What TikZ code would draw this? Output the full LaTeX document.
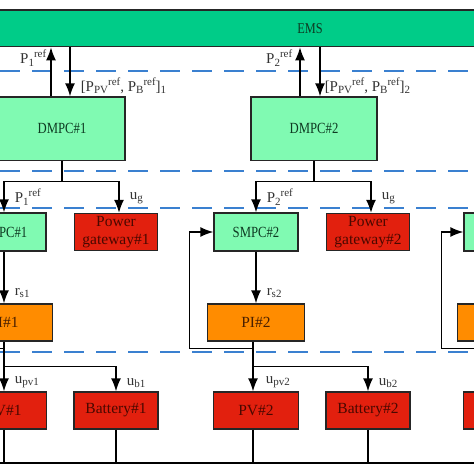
\documentclass[tikz,border=0pt]{standalone}
\usepackage{fontspec}
\setmainfont{Liberation Serif}
\newfontfamily\narrowfont[FakeStretch=0.82]{Liberation Serif}
\usetikzlibrary{arrows.meta}

\definecolor{emsgreen}{HTML}{00CC88}
\definecolor{ctrlgreen}{HTML}{80FAB2}
\definecolor{ctrltext}{HTML}{0E3A22}
\definecolor{devred}{HTML}{E2200E}
\definecolor{devtext}{HTML}{4A0800}
\definecolor{piorange}{HTML}{FF8C00}
\definecolor{pitext}{HTML}{4A2000}
\definecolor{dashblue}{HTML}{3A80D0}

\newcommand{\subtxt}[1]{\raisebox{-0.35ex}{\fontsize{11}{12}\selectfont #1}}
\newcommand{\suptxt}[1]{\raisebox{0.85ex}{\fontsize{11}{12}\selectfont #1}}

\begin{document}
\begin{tikzpicture}[x=1pt, y=-1pt,
  box/.style={draw=black!85, line width=1.3pt, inner sep=0pt, align=center},
  ems/.style={box, fill=emsgreen, minimum width=700pt, minimum height=36.7pt,
    font=\narrowfont\fontsize{15}{17}\selectfont, text=ctrltext},
  ctrl/.style={box, fill=ctrlgreen, minimum width=84pt, minimum height=38pt,
    font=\narrowfont\fontsize{15.5}{17}\selectfont, text=ctrltext},
  dev/.style={box, fill=devred, minimum width=84pt, minimum height=37pt,
    font=\fontsize{15.5}{18.5}\selectfont, text=devtext},
  pictrl/.style={box, fill=piorange, minimum width=97pt, minimum height=37pt,
    font=\fontsize{15.5}{18}\selectfont, text=pitext},
  wire/.style={line width=1.5pt},
  arr/.style={line width=1.5pt, -{Latex[length=13pt,width=10pt]}},
  dline/.style={draw=dashblue, line width=1.2pt, dash pattern=on 20pt off 12pt},
  lbl/.style={font=\fontsize{15}{17}\selectfont, text=black!80, inner sep=4pt}]
\useasboundingbox (0,0) rectangle (474,474);
\clip (0,0) rectangle (474,474);

\draw[dline] (0,71)--(474,71);
\draw[dline] (0,171)--(474,171);
\draw[dline] (0,208)--(474,208);
\draw[dline] (0,352)--(474,352);

\node[ems] (EMS) at (310,28.3) {EMS};
\node[ctrl, minimum width=126pt, minimum height=63.5pt] (DMPC1) at (62,128.8) {DMPC\#1};
\node[ctrl, minimum width=126pt, minimum height=63.5pt] (DMPC2) at (314,128.8) {DMPC\#2};

\node[ctrl] (SMPC1) at (4,232) {SMPC\#1};
\node[ctrl] (SMPC2) at (256,232) {SMPC\#2};
\node[ctrl] (SMPC3) at (506,232) {};
\node[dev, minimum width=83pt] (GW1) at (116,232) {Power\\gateway\#1};
\node[dev, minimum width=83pt] (GW2) at (368,232) {Power\\gateway\#2};

\node[pictrl] (PI1) at (4,322.5) {PI\#1};
\node[pictrl] (PI2) at (256,322.5) {PI\#2};
\node[pictrl] (PI3) at (506,322.5) {};

\node[dev, minimum width=85pt] (PV1) at (4,410.5) {PV\#1};
\node[dev, minimum width=85pt] (PV2) at (256,410.5) {PV\#2};
\node[dev, minimum width=85pt] (PV3) at (506,410.5) {};
\node[dev] (BAT1) at (116,410.5) {Battery\#1};
\node[dev] (BAT2) at (368,410.5) {Battery\#2};

% EMS <-> DMPC
\path (DMPC1.north) ++(-11,0) coordinate (up1) ++(19,0) coordinate (dn1);
\path (DMPC2.north) ++(-14,0) coordinate (up2) ++(20,0) coordinate (dn2);
\draw[arr] (up1) -- (up1 |- EMS.south) node[lbl, pos=0.78, left] {P\subtxt{1}\suptxt{ref}};
\draw[arr] (dn1 |- EMS.south) -- (dn1) node[lbl, pos=0.78, right=6pt] {[P\subtxt{PV}\suptxt{ref}, P\subtxt{B}\suptxt{ref}]\subtxt{1}};
\draw[arr] (up2) -- (up2 |- EMS.south) node[lbl, pos=0.78, left=3pt] {P\subtxt{2}\suptxt{ref}};
\draw[arr] (dn2 |- EMS.south) -- (dn2) node[lbl, pos=0.78, right] {[P\subtxt{PV}\suptxt{ref}, P\subtxt{B}\suptxt{ref}]\subtxt{2}};

% DMPC -> SMPC, gateway
\path (DMPC1.south) ++(0,20.5) coordinate (d1);
\path (DMPC2.south) ++(0,20.5) coordinate (d2);
\draw[wire] (DMPC1.south) -- (d1);
\draw[wire] (DMPC2.south) -- (d2);
\draw[arr] (d1) -| (SMPC1.north) node[lbl, pos=0.75, right=6pt] {P\subtxt{1}\suptxt{ref}};
\draw[arr] (d1) -| ([xshift=3pt]GW1.north) node[lbl, pos=0.77, right=6pt] {u\subtxt{g}};
\draw[arr] (d2) -| (SMPC2.north) node[lbl, pos=0.75, right=6pt] {P\subtxt{2}\suptxt{ref}};
\draw[arr] (d2) -| ([xshift=3pt]GW2.north) node[lbl, pos=0.77, right=6pt] {u\subtxt{g}};

% SMPC -> PI
\draw[arr] (SMPC1) -- (PI1) node[lbl, pos=0.8, right=6pt] {r\subtxt{s1}};
\draw[arr] (SMPC2) -- (PI2) node[lbl, pos=0.8, right=6pt] {r\subtxt{s2}};
\draw[arr] (SMPC3) -- (PI3);

% feedback
\path (PI1.south) ++(0,7) coordinate (f1);
\path (PI2.south) ++(-3,7) coordinate (f2);
\path (PI3.south) ++(0,7) coordinate (f3);
\draw[arr] (f1) -| ([xshift=-24pt]SMPC1.west) -- (SMPC1.west);
\draw[arr] (f2) -| ([xshift=-24pt]SMPC2.west) -- (SMPC2.west);
\draw[arr] (f3) -| ([xshift=-22pt]SMPC3.west) -- (SMPC3.west);

% PI -> PV, battery
\path (PI1.south) ++(0,25) coordinate (j1);
\path (PI2.south) ++(-3,25) coordinate (j2);
\draw[arr] (PI1.south) -- (PV1.north) node[lbl, pos=0.82, right=6pt] {u\subtxt{pv1}};
\draw[arr] (j1) -| (BAT1.north) node[lbl, pos=0.83, right=6pt] {u\subtxt{b1}};
\draw[arr] ([xshift=-3pt]PI2.south) -- ([xshift=-3pt]PV2.north) node[lbl, pos=0.82, right=8pt] {u\subtxt{pv2}};
\draw[arr] (j2) -| (BAT2.north) node[lbl, pos=0.83, right=6pt] {u\subtxt{b2}};

% bus
\coordinate (busL) at (-20,463);
\coordinate (busR) at (520,463);
\draw[wire] (busL) -- (busR);
\draw[wire] (PV1.south) -- (PV1.south |- busL);
\draw[wire] (BAT1.south) -- (BAT1.south |- busL);
\draw[wire] ([xshift=-3pt]PV2.south) -- ([xshift=-3pt]PV2.south |- busL);
\draw[wire] (BAT2.south) -- (BAT2.south |- busL);
\end{tikzpicture}
\end{document}
